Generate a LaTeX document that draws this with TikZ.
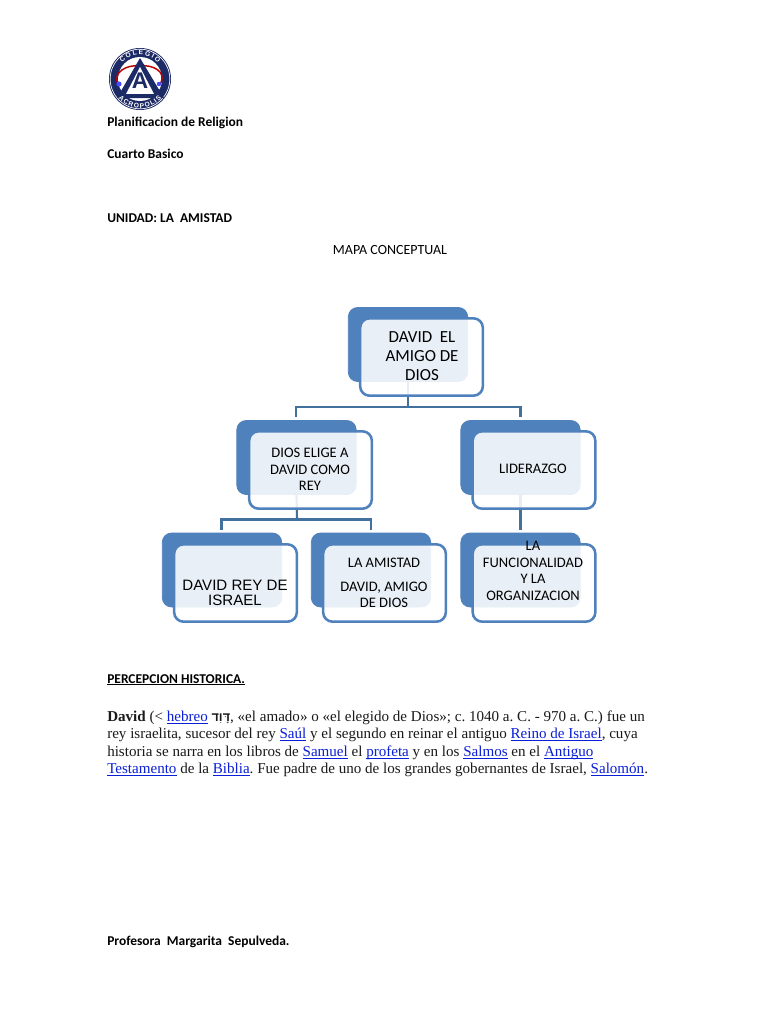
\documentclass[tikz,border=0pt]{standalone}
\usepackage{fontspec}
\usetikzlibrary{decorations.text,calc}
\setmainfont{Liberation Serif}
\newfontfamily\calib{Carlito}
\newfontfamily\lsans{Liberation Sans}
\newfontfamily\hebfont[Script=Hebrew]{Liberation Sans}
\TeXXeTstate=1
\frenchspacing
\definecolor{boxblue}{HTML}{4F81BD}
\definecolor{linkline}{HTML}{41719C}
\definecolor{linkblue}{HTML}{0B1FD8}
\definecolor{navy}{HTML}{1C2A66}
\definecolor{bodyink}{HTML}{1A1A1A}
\newcommand\lnk[1]{\textcolor{linkblue}{\setbox0\hbox{#1}\rlap{\rule[-1.8pt]{\wd0}{0.55pt}}\box0}}
\newcommand\ulbold[1]{\setbox0\hbox{#1}\rlap{\rule[-1.6pt]{\wd0}{0.5pt}}\box0}
\tikzset{
  backbox/.style={draw=boxblue,fill=boxblue,rounded corners=7,line width=.6pt,minimum width=89.5pt,minimum height=55.5pt,inner sep=0pt},
  frontbox/.style={draw=boxblue,line width=1.9pt,fill=white,fill opacity=.88,rounded corners=7,minimum width=92pt,minimum height=58pt,inner sep=0pt},
  connector/.style={draw=linkline,line width=1.6pt,line join=miter},
  doc/.style={anchor=base west,inner sep=0pt,text=black,font=\calib\bfseries\fontsize{10.1}{11}\selectfont},
  para/.style={anchor=base west,inner sep=0pt,text=bodyink,font=\fontsize{11.3}{13}\selectfont},
  boxlabel/.style={align=center,inner sep=0pt,text=black,font=\calib\fontsize{10.9}{12.4}\selectfont},
  biglabel/.style={align=center,inner sep=0pt,text=black,font=\calib\fontsize{12.7}{14.2}\selectfont},
  sanslabel/.style={align=center,inner sep=0pt,text=black,font=\lsans\fontsize{11.3}{11.4}\selectfont},
}
\begin{document}
\begin{tikzpicture}[x=.75pt,y=-.75pt]
\useasboundingbox[fill=white] (0,0) rectangle (768,1024);
% logo
\fill[navy] (140,79) circle[radius=31];
\fill[white] (140,79) circle[radius=22];
\draw[white,line width=.5pt] (140,79) circle[radius=29.8];
\draw[red!75!black,line width=1.1pt] (118,84) .. controls (112,72) and (128,64) .. (140,66) .. controls (152,64) and (168,72) .. (160,84);
\fill[navy] (140,58) -- (117,98) -- (164,98) -- cycle;
\fill[white] (140,67) -- (126,94) -- (154,94) -- cycle;
\node[inner sep=0pt,text=navy,font=\lsans\bfseries\fontsize{17}{17}\selectfont] (logoA) at (140,81) {A};
\fill[blue!70!white] (119,84) circle[radius=2.6];
\fill[blue!70!white] (159,84) circle[radius=2.2];
\path[postaction={decorate,decoration={text along path,text align={fit to path},text={|\lsans\bfseries\fontsize{5}{5}\selectfont\color{white}|COLEGIO}}}]
  ($(140,79)+(222:24)$) arc[start angle=222,end angle=318,radius=24];
\path[postaction={decorate,decoration={text along path,text align={fit to path},text={|\lsans\bfseries\fontsize{5}{5}\selectfont\color{white}|ACROPOLIS}}}]
  ($(140,79)+(138:29)$) arc[start angle=138,end angle=42,radius=29];
% header
\node[doc] (t1) at (107,126) {Planificacion de Religion};
\node[doc] (t2) at (107,158.5) {Cuarto Basico};
\node[doc] (t3) at (107,222) {UNIDAD: LA\ \ AMISTAD};
\node[doc,anchor=base,font=\calib\fontsize{10.5}{11}\selectfont] (t4) at (390,254) {MAPA CONCEPTUAL};
% back boxes
\node[backbox] (b1) at (408,344.5) {};
\node[backbox] (b2) at (296.5,457.5) {};
\node[backbox] (b3) at (520.5,457.5) {};
\node[backbox] (b4) at (222,570) {};
\node[backbox] (b5) at (371,570) {};
\node[backbox] (b6) at (520.5,570) {};
% connectors
\coordinate (j1) at (408,407);
\coordinate (e2) at (296,417);
\coordinate (e3) at (520.5,417);
\coordinate (j2) at (297,519.5);
\coordinate (e4) at (221.5,530);
\coordinate (e5) at (371,530);
\coordinate (e6) at (520.5,530);
\draw[connector] (b1.south) -- (j1);
\draw[connector] (e2) |- (j1) -| (e3);
\draw[connector] (b2.south) -- (j2);
\draw[connector] (e4) |- (j2) -| (e5);
\draw[connector] (b3.south) -- (e6);
% front boxes
\node[frontbox] (f1) at (421.5,357) {};
\node[frontbox] (f2) at (310.5,470) {};
\node[frontbox] (f3) at (534,470) {};
\node[frontbox] (f4) at (235.5,583) {};
\node[frontbox] (f5) at (384.5,583) {};
\node[frontbox] (f6) at (534,583) {};
% labels
\node[biglabel] (l1) at (422,356.5) {DAVID\ \ EL\\AMIGO DE\\DIOS};
\node[boxlabel] (l2) at (310,469.5) {DIOS ELIGE A\\DAVID COMO\\REY};
\node[boxlabel] (l3) at (533,469) {LIDERAZGO};
\node[sanslabel] (l4) at (235,592.5) {DAVID REY DE\\ISRAEL};
\node[boxlabel] (l5) at (384,583) {LA AMISTAD\\[5pt]DAVID, AMIGO\\DE DIOS};
\node[boxlabel] (l6) at (533,571) {LA\\FUNCIONALIDAD\\Y LA\\ORGANIZACION};
% text below
\node[doc] (t5) at (107,683) {\ulbold{PERCEPCION HISTORICA.}};
\node[para] (p1) at (107,721) {\textbf{David} (< \lnk{hebreo} {\hebfont\bfseries\fontsize{9.5}{13}\selectfont\beginR דָּוִד\endR}, «el amado» o «el elegido de Dios»; c. 1040 a. C. - 970 a. C.) fue un};
\node[para] (p2) at (107,738) {rey israelita, sucesor del rey \lnk{Saúl} y el segundo en reinar el antiguo \lnk{Reino de Israel}, cuya};
\node[para] (p3) at (107,756) {historia se narra en los libros de \lnk{Samuel} el \lnk{profeta} y en los \lnk{Salmos} en el \lnk{Antiguo}};
\node[para] (p4) at (107,773) {\lnk{Testamento} de la \lnk{Biblia}. Fue padre de uno de los grandes gobernantes de Israel, \lnk{Salomón}.};
\node[doc] (t6) at (107,945) {Profesora\ \ Margarita\ \ Sepulveda.};
\end{tikzpicture}
\end{document}
